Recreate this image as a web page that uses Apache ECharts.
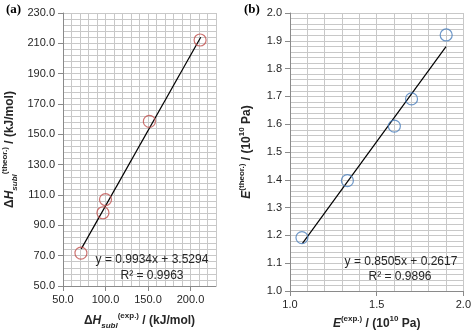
<!DOCTYPE html>
<html>
<head>
<meta charset="utf-8">
<script src="https://cdn.jsdelivr.net/npm/echarts@6/dist/echarts.min.js"></script>
<style>
html,body{margin:0;padding:0;background:#fff;}
#c{width:474px;height:335px;}
</style>
</head>
<body>
<div id="c"></div>
<script>
// Panel (a): sublimation enthalpy
const hExp = [71.1, 97.0, 100.0, 151.6, 211.3];
const hTheor = [71.7, 98.3, 107.0, 158.5, 212.2];
const hTrendX = [71.5, 212];
const hTrendY = [74.5, 214];
const hXTicks = [50, 100, 150, 200];
const hYTicks = [50, 70, 90, 110, 130, 150, 170, 190, 210, 230];
const hEq = 'y = 0.9934x + 3.5294';
const hR2 = 'R² = 0.9963';

// Panel (b): Young's modulus
const eExp = [1.069, 1.331, 1.602, 1.701, 1.901];
const eTheor = [1.192, 1.397, 1.593, 1.691, 1.921];
const eTrendX = [1.072, 1.90];
const eTrendY = [1.171, 1.879];
const eXTicks = [1.0, 1.5, 2.0];
const eYTicks = [1.0, 1.1, 1.2, 1.3, 1.4, 1.5, 1.6, 1.7, 1.8, 1.9, 2.0];
const eEq = 'y = 0.8505x + 0.2617';
const eR2 = 'R² = 0.9896';

const FONT = 'Liberation Sans';
const axisGray = '#8a8a8a';
const gridGray = '#c8c8c8';
const txt = '#262626';

const rich = {
  b: {fontFamily: FONT, fontWeight: 'bold', fontSize: 12, color: txt, lineHeight: 18},
  bi: {fontFamily: FONT, fontWeight: 'bold', fontStyle: 'italic', fontSize: 12, color: txt, lineHeight: 18},
  sub: {fontFamily: FONT, fontWeight: 'bold', fontStyle: 'italic', fontSize: 8, color: txt, lineHeight: 9, verticalAlign: 'bottom'},
  sup: {fontFamily: FONT, fontWeight: 'bold', fontSize: 8, color: txt, lineHeight: 9, verticalAlign: 'top'}
};

function pairs(xs, ys){ return xs.map((x,i)=>[x, ys[i]]); }

function majorAxis(min, max, interval, grid, ticks, name, nameGap, isY){
  return {
    type: 'value', gridIndex: grid, min: min, max: max, interval: interval,
    position: isY ? 'left' : 'bottom',
    name: name, nameLocation: 'middle', nameGap: nameGap,
    nameTextStyle: {rich: rich},
    axisLine: {show: true, onZero: false, lineStyle: {color: axisGray, width: 1}},
    axisTick: {show: true, length: 5, customValues: ticks, lineStyle: {color: axisGray}},
    axisLabel: {customValues: ticks, margin: 8, color: txt, fontFamily: FONT, fontSize: 11,
      formatter: v => (+v).toFixed(1)},
    splitLine: {show: false}
  };
}
function minorAxis(min, max, interval, grid, isY){
  return {
    type: 'value', gridIndex: grid, min: min, max: max, interval: interval,
    position: isY ? 'right' : 'top',
    axisLine: {show: false}, axisTick: {show: false}, axisLabel: {show: false},
    splitLine: {show: true, lineStyle: {color: gridGray, width: 1}}
  };
}

const chart = echarts.init(document.getElementById('c'), null, {renderer: 'canvas'});
chart.setOption({
  animation: false,
  backgroundColor: '#fff',
  grid: [
    {left: 61, top: 13, width: 155, height: 276},
    {left: 290, top: 13, width: 175, height: 278}
  ],
  xAxis: [
    majorAxis(50, 230, 50, 0, hXTicks, '{b|Δ}{bi|H}{sub|subl}{sup|(exp.)}{b| / (kJ/mol)}', 26, false),
    minorAxis(50, 230, 10, 0, false),
    majorAxis(1.0, 2.0, 0.5, 1, eXTicks, '{bi|E}{sup|(exp.)}{b| / (10}{sup|10}{b| Pa)}', 24, false),
    minorAxis(1.0, 2.0, 0.1, 1, false)
  ],
  yAxis: [
    majorAxis(50, 230, 20, 0, hYTicks, '{b|Δ}{bi|H}{sub|subl}{sup|(theor.)}{b| / (kJ/mol)}', 44, true),
    minorAxis(50, 230, 4, 0, true),
    majorAxis(1.0, 2.0, 0.1, 1, eYTicks, '{bi|E}{sup|(theor.)}{b| / (10}{sup|10}{b| Pa)}', 34, true),
    minorAxis(1.0, 2.0, 0.02, 1, true)
  ],
  series: [
    {type: 'line', xAxisIndex: 0, yAxisIndex: 0, data: pairs(hTrendX, hTrendY), symbol: 'none',
      lineStyle: {color: '#000', width: 1.2}, z: 3},
    {type: 'scatter', xAxisIndex: 0, yAxisIndex: 0, data: pairs(hExp, hTheor), symbol: 'circle', symbolSize: 12,
      itemStyle: {color: 'rgba(0,0,0,0)', borderColor: '#c0504d', borderWidth: 1.2}, z: 4},
    {type: 'line', xAxisIndex: 2, yAxisIndex: 2, data: pairs(eTrendX, eTrendY), symbol: 'none',
      lineStyle: {color: '#000', width: 1.2}, z: 3},
    {type: 'scatter', xAxisIndex: 2, yAxisIndex: 2, data: pairs(eExp, eTheor), symbol: 'circle', symbolSize: 12,
      itemStyle: {color: 'rgba(0,0,0,0)', borderColor: '#4a7ebb', borderWidth: 1.2}, z: 4}
  ],
  graphic: [
    {type: 'text', x: 152, y: 260, z: 10, style: {text: hEq, fill: txt, font: '12px "Liberation Sans"', align: 'center', verticalAlign: 'middle', backgroundColor: 'transparent'}},
    {type: 'text', x: 152, y: 276, z: 10, style: {text: hR2, fill: txt, font: '12px "Liberation Sans"', align: 'center', verticalAlign: 'middle'}},
    {type: 'text', x: 401, y: 262, z: 10, style: {text: eEq, fill: txt, font: '12px "Liberation Sans"', align: 'center', verticalAlign: 'middle'}},
    {type: 'text', x: 400, y: 277, z: 10, style: {text: eR2, fill: txt, font: '12px "Liberation Sans"', align: 'center', verticalAlign: 'middle'}},
    {type: 'text', x: 6, y: 10, style: {text: '(a)', fill: '#000', font: 'bold 13px "Liberation Serif"', align: 'left', verticalAlign: 'middle'}},
    {type: 'text', x: 244, y: 10, style: {text: '(b)', fill: '#000', font: 'bold 13px "Liberation Serif"', align: 'left', verticalAlign: 'middle'}}
  ]
});
</script>
</body>
</html>
